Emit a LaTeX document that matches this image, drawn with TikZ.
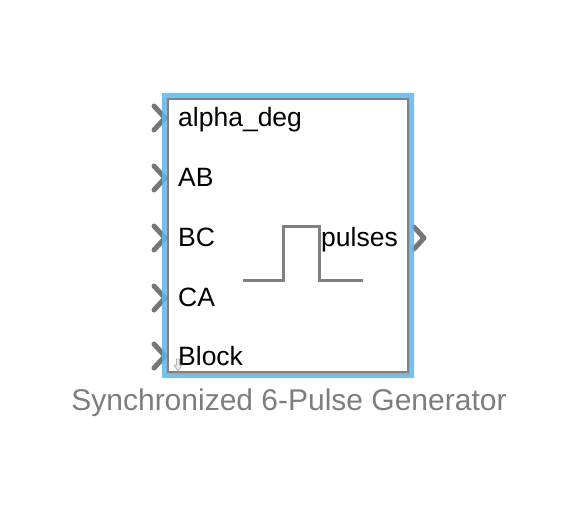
\documentclass[tikz,border=0pt]{standalone}
\usepackage{fontspec}
\setmainfont{Liberation Sans}
\definecolor{selblue}{RGB}{88,182,240}
\definecolor{portgray}{RGB}{118,118,118}
\definecolor{boxgray}{RGB}{128,128,128}
\definecolor{titlegray}{RGB}{125,125,125}
\tikzset{
  chev/.style={draw=portgray, line width=5pt, line cap=round, line join=round},
  lbl/.style={inner sep=0pt, font=\fontsize{26.5}{31}\selectfont, text=black},
}
\begin{document}
\begin{tikzpicture}[x=1pt,y=-1pt]
\useasboundingbox (0,0) rectangle (581,506);
% input chevrons
\foreach \yy/\nm in {118/a,178/b,238/c,298/d,356/e}{
  \draw[chev] (154,\yy-12) -- (165,\yy) -- (154,\yy+12);
}
% output chevron
\draw[chev] (414,227) -- (424,238) -- (414,249);
% blue selection frame
\fill[selblue, opacity=0.85, even odd rule] (162,93) rectangle (414,378) (167,98) rectangle (408,372);
% shadow and box
\draw[boxgray!70, line width=1.5pt] (409,100) -- (409,374) -- (169,374);
\node[draw=boxgray, line width=1.5pt, fill=white, minimum width=240pt, minimum height=273pt, inner sep=0pt, anchor=north west] (blk) at (167,98) {};
% port labels
\node[lbl, anchor=base west] (l1) at (178,126) {alpha\_deg};
\node[lbl, anchor=base west] (l2) at (178,186) {AB};
\node[lbl, anchor=base west] (l3) at (178,246) {BC};
\node[lbl, anchor=base west] (l4) at (178,306) {CA};
\node[lbl, anchor=base west] (l5) at (178,365) {Block};
\node[lbl, anchor=base east] (lo) at (398,246) {pulses};
% pulse icon
\draw[boxgray, line width=3pt] (243,280) -- (283,280) -- (283,226) -- (319,226) -- (319,280) -- (363,280);
% small down arrow
\draw[gray!60, fill=gray!15, line width=0.8pt] (176.5,359) -- (179.5,359) -- (179.5,365) -- (182,365) -- (178,371) -- (174,365) -- (176.5,365) -- cycle;
% title
\node[inner sep=0pt, anchor=base, font=\fontsize{30}{36}\selectfont, text=titlegray] (title) at (289,410) {Synchronized 6-Pulse Generator};
\end{tikzpicture}
\end{document}
